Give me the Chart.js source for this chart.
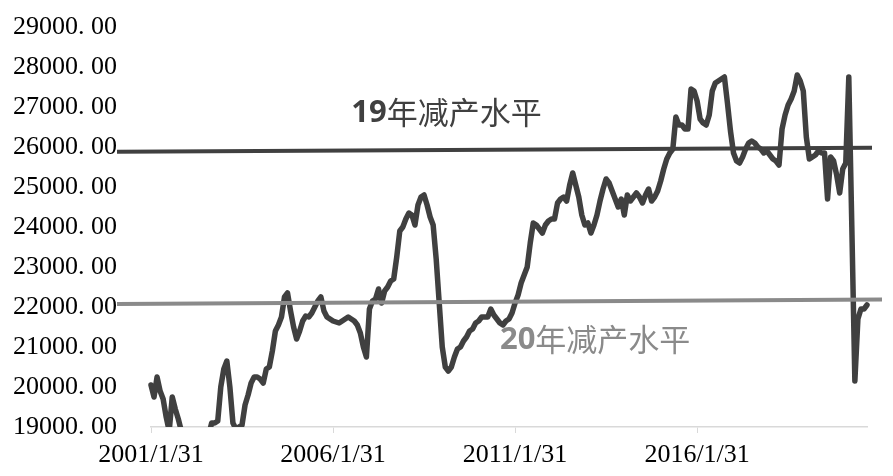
<!DOCTYPE html>
<html>
<head>
<meta charset="utf-8">
<script src="https://cdn.jsdelivr.net/npm/chart.js@4.4.0/dist/chart.umd.min.js"></script>
<style>
  html, body { margin: 0; padding: 0; background: #fff; }
  #wrap { width: 893px; height: 476px; }
</style>
</head>
<body>
<div id="wrap"><canvas id="chart"></canvas></div>
<script>
// monthly values, 2001/1 .. 2020/9
const values = [
  20050, 19750, 20250, 19900, 19700, 19250, 18900, 19750, 19450, 19200,
  18900, 18700, 18400, 18300, 18200, 18200, 18300, 18400, 18600, 18800,
  19100, 19100, 19150, 20000, 20450, 20650, 20000, 19100, 18950, 19000,
  19050, 19550, 19800, 20100, 20250, 20250, 20200, 20100, 20450, 20500,
  20900, 21400, 21550, 21750, 22250, 22350, 21900, 21500, 21200, 21400,
  21650, 21775, 21750, 21850, 22000, 22150, 22250, 21900, 21750, 21700,
  21650, 21625, 21600, 21650, 21700, 21750, 21700, 21650, 21550, 21350,
  21000, 20750, 21950, 22150, 22200, 22450, 22100, 22400, 22500, 22650,
  22700, 23250, 23900, 24000, 24200, 24350, 24300, 24050, 24550, 24750,
  24800, 24550, 24250, 24050, 23200, 22100, 21000, 20500, 20400, 20500,
  20750, 20950, 21000, 21150, 21250, 21400, 21450, 21600, 21650, 21750,
  21750, 21750, 21950, 21800, 21700, 21600, 21550, 21650, 21700, 21850,
  22100, 22300, 22600, 22800, 23000, 23600, 24100, 24050, 23950, 23850,
  24050, 24150, 24200, 24200, 24600, 24700, 24750, 24650, 25050, 25350,
  25050, 24750, 24300, 24050, 24100, 23850, 24050, 24300, 24650, 24950,
  25200, 25100, 24900, 24700, 24500, 24700, 24300, 24800, 24650, 24750,
  24850, 24750, 24600, 24800, 24950, 24650, 24750, 24900, 25150, 25450,
  25700, 25850, 25950, 26750, 26550, 26550, 26450, 26450, 27450, 27400,
  27150, 26700, 26600, 26550, 26800, 27400, 27600, 27650, 27700, 27750,
  27100, 26400, 25850, 25650, 25600, 25750, 25950, 26100, 26150, 26100,
  26000, 25950, 25850, 25900, 25800, 25700, 25650, 25550, 26450, 26800,
  27050, 27200, 27400, 27800, 27650, 27400, 26250, 25700, 25750, 25800,
  25900, 25850, 25850, 24700, 25750, 25650, 25300, 24850, 25450, 25600,
  27750, 24000, 20150, 21700, 21950, 21950, 22050
];

const shownTicks = ['2001/1/31', '2006/1/31', '2011/1/31', '2016/1/31'];

// reduction levels (start / end of each line)
const level19 = [25880, 25980];
const level20 = [22075, 22190];
const levelTitles = ['19年减产水平', '20年减产水平'];

// month-end labels
const labels = [];
for (let i = 0; i < values.length; i++) {
  const y = 2001 + Math.floor(i / 12);
  const m = i % 12;
  const d = new Date(y, m + 1, 0).getDate();
  labels.push(y + '/' + (m + 1) + '/' + d);
}

const levels = [
  { vals: level19, title: levelTitles[0], color: '#404040', ext: 5, at: 66, atValue: 26880 },
  { vals: level20, title: levelTitles[1], color: '#8a8a8a', ext: 15, at: 115, atValue: 21200 }
];

const levelPlugin = {
  id: 'levels',
  afterDatasetsDraw(chart) {
    const { ctx, chartArea, scales } = chart;
    const x0 = chartArea.left - 34;
    levels.forEach(function (lv) {
      const x1 = chartArea.right + lv.ext;
      ctx.save();
      ctx.strokeStyle = lv.color;
      ctx.lineWidth = 4;
      ctx.beginPath();
      ctx.moveTo(x0, scales.y.getPixelForValue(lv.vals[0]));
      ctx.lineTo(x1, scales.y.getPixelForValue(lv.vals[1]));
      ctx.stroke();

      // title: bold digits + CJK text
      const parts = lv.title.match(/^(\d+)(.*)$/);
      let tx = scales.x.getPixelForValue(lv.at);
      const ty = scales.y.getPixelForValue(lv.atValue);
      ctx.fillStyle = lv.color;
      ctx.textBaseline = 'middle';
      ctx.textAlign = 'left';
      ctx.font = 'bold 31px "Noto Sans", "Liberation Sans", sans-serif';
      ctx.fillText(parts[1], tx, ty + 1);
      tx += ctx.measureText(parts[1]).width;
      ctx.font = '31px "Noto Sans CJK SC", sans-serif';
      ctx.fillText(parts[2], tx, ty);
      ctx.restore();
    });
  }
};

new Chart(document.getElementById('chart'), {
  type: 'line',
  data: {
    labels: labels,
    datasets: [{
      data: values,
      borderColor: '#404040',
      borderWidth: 5.5,
      borderJoinStyle: 'round',
      borderCapStyle: 'round',
      pointRadius: 0,
      tension: 0,
      clip: { left: 10, top: 10, right: 10, bottom: 0 }
    }]
  },
  options: {
    responsive: true,
    maintainAspectRatio: false,
    animation: false,
    layout: { padding: { top: 27, right: 26, left: 0, bottom: 0 } },
    plugins: {
      legend: { display: false },
      tooltip: { enabled: false }
    },
    scales: {
      x: {
        afterFit: function (scale) { scale.height = 49; },
        border: { display: true, color: '#d9d9d9', width: 1.5 },
        grid: {
          drawOnChartArea: false,
          drawTicks: true,
          tickLength: 6,
          color: function (c) {
            return shownTicks.includes(labels[c.index]) ? '#d9d9d9' : 'rgba(0,0,0,0)';
          }
        },
        ticks: {
          autoSkip: false,
          maxRotation: 0,
          minRotation: 0,
          padding: 7,
          color: '#000',
          font: { family: '"Liberation Serif", serif', size: 26 },
          callback: function (v, i) {
            return shownTicks.includes(labels[i]) ? labels[i] : '';
          }
        }
      },
      y: {
        min: 19000,
        max: 29000,
        afterFit: function (scale) { scale.width = 151; },
        border: { display: false },
        grid: {
          drawOnChartArea: false,
          drawTicks: true,
          tickLength: 34,
          color: 'rgba(0,0,0,0)'
        },
        ticks: {
          stepSize: 1000,
          padding: 0,
          color: '#000',
          font: { family: '"Liberation Serif", serif', size: 26 },
          callback: function (v) { return v.toFixed(2).replace('.', '. '); }
        }
      }
    }
  },
  plugins: [levelPlugin]
});
</script>
</body>
</html>
